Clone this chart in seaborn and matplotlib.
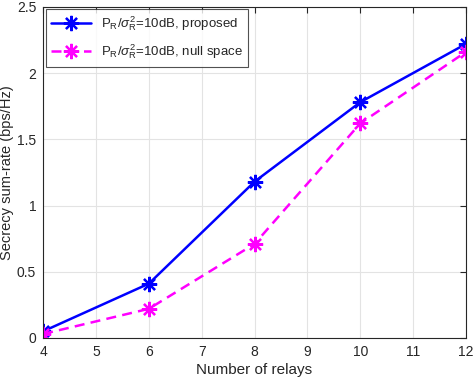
import pandas as pd
import seaborn as sns
import matplotlib.pyplot as plt

# data
relays = [4, 6, 8, 10, 12]
proposed = [0.05, 0.41, 1.18, 1.78, 2.22]
null_space = [0.03, 0.22, 0.71, 1.62, 2.16]
labels = [r'$\mathrm{P_R}/\sigma^2_\mathrm{R}$=10dB, proposed',
          r'$\mathrm{P_R}/\sigma^2_\mathrm{R}$=10dB, null space']

sns.set_style('white')
plt.rcParams['font.family'] = ['Liberation Sans', 'DejaVu Sans']
plt.rcParams['mathtext.fontset'] = 'custom'
plt.rcParams['mathtext.rm'] = 'Liberation Sans'
plt.rcParams['mathtext.it'] = 'Liberation Sans:italic'

fig = plt.figure(figsize=(4.74, 3.81), dpi=100)
ax = fig.add_axes([0.091, 0.113, 0.892, 0.869])

ast = (8, 2, 0)
for vals, lab, col, ls in [(proposed, labels[0], '#0000ff', '-'),
                           (null_space, labels[1], '#ff00ff', (0, (4, 2.5)))]:
    sns.lineplot(x=relays, y=vals, label=lab, color=col, linestyle=ls,
                 marker=ast, markersize=11, markeredgewidth=1.6,
                 markeredgecolor=col, linewidth=1.8, ax=ax)

ax.set_xlim(4, 12)
ax.set_ylim(0, 2.5)
ax.set_xticks(range(4, 13))
ax.set_yticks([0, 0.5, 1, 1.5, 2, 2.5])
ax.set_yticklabels(['0', '0.5', '1', '1.5', '2', '2.5'])
ax.grid(True, color='#e3e3e3', linewidth=0.8)
ax.tick_params(direction='in', top=True, right=True, length=4, labelsize=10,
               colors='#262626', width=0.8, pad=5)
for s in ax.spines.values():
    s.set_color('#262626')
    s.set_linewidth(0.8)
ax.set_xlabel('Number of relays', fontsize=11, color='#262626', labelpad=3)
ax.set_ylabel('Secrecy sum-rate (bps/Hz)', fontsize=10.5, color='#262626')
ax.yaxis.set_label_coords(-0.07, 0.5)

leg = ax.legend(loc='upper left', fontsize=9.5, frameon=True, fancybox=False,
                edgecolor='#262626', handlelength=3, borderaxespad=0.2,
                labelspacing=0.7)
leg.get_frame().set_linewidth(0.8)

fig.savefig('out.png', dpi=100)
